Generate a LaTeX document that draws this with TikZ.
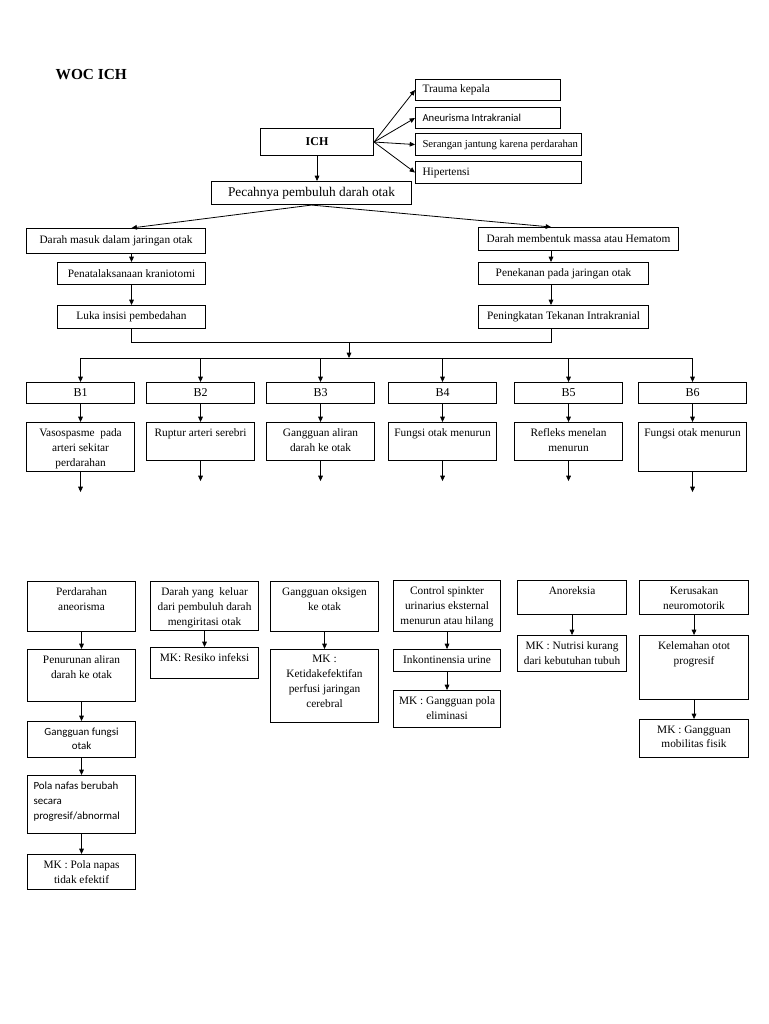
\documentclass[tikz,border=0pt]{standalone}
\usepackage{fontspec}
\setmainfont{Liberation Serif}
\newfontfamily\sansf{Carlito}
\usepackage{tikz}
\usetikzlibrary{arrows.meta, positioning, calc}
\newlength\px
\setlength\px{0.75pt}
% box contents: width, height (in px), text
\newcommand\tengah[3]{\parbox[c][#2\px][c]{#1\px}{\centering #3}}
\newcommand\atas[3]{\parbox[c][#2\px][t]{#1\px}{\centering\vspace{6\px}#3}}
\newcommand\kiri[3]{\parbox[c][#2\px][c]{#1\px}{\hspace*{7\px}\mbox{#3}}}
\newcommand\ataskiri[3]{\parbox[c][#2\px][t]{#1\px}{\raggedright\leftskip=6\px\vspace{6\px}#3}}

\begin{document}
\begin{tikzpicture}[x=0.75pt, y=-0.75pt,
    kotak/.style={draw, line width=0.8pt, inner sep=0pt, anchor=north west, font=\fontsize{8.5}{11.2}\selectfont},
    sanskotak/.style={kotak, font=\sansf\fontsize{8.2}{11.2}\selectfont},
    panah/.style={-{Triangle[length=4pt, width=3.5pt]}, line width=0.6pt},
    garis/.style={line width=0.6pt}]
  \useasboundingbox (0,0) rectangle (768,1024);
  \node[anchor=west, font=\fontsize{11.5}{13}\selectfont\bfseries] (judul) at (51,75) {WOC ICH};
  % Top: ICH and its causes
  \node[kotak, font=\fontsize{9}{11}\selectfont\bfseries] (ich) at (260,128) {\tengah{113}{27}{ICH}};
  \node[kotak] (trauma) at (415,79) {\kiri{145}{21}{Trauma kepala}};
  \node[sanskotak, font=\sansf\fontsize{8}{10}\selectfont] (aneur) at (415,107) {\kiri{145}{21}{Aneurisma Intrakranial}};
  \node[kotak, font=\fontsize{8}{10}\selectfont] (serang) at (415,133) {\kiri{166}{22}{Serangan jantung karena perdarahan}};
  \node[kotak] (hiper) at (415,161) {\kiri{166}{22}{Hipertensi}};
  \node[kotak, font=\fontsize{10}{12}\selectfont] (pecah) at (211,181) {\tengah{200}{23}{Pecahnya pembuluh darah otak}};
  \foreach \n in {trauma,aneur,serang,hiper}
    \draw[panah] (ich.east) -- (\n.west);
  \draw[panah] (ich.south) -- (ich.south |- pecah.north);
  % Two branches
  \node[kotak] (dmasuk) at (26,228) {\tengah{179}{25}{Darah masuk dalam jaringan otak}};
  \node[kotak] (krani) at (57,262) {\tengah{148}{22}{Penatalaksanaan kraniotomi}};
  \node[kotak] (luka) at (57,305) {\tengah{148}{23}{Luka insisi pembedahan}};
  \node[kotak] (hematom) at (478,227) {\tengah{200}{23}{Darah membentuk massa atau Hematom}};
  \node[kotak] (tekan) at (478,262) {\tengah{170}{22}{Penekanan pada jaringan otak}};
  \node[kotak] (tik) at (478,305) {\tengah{170}{23}{Peningkatan Tekanan Intrakranial}};
  \coordinate (kanan) at (551,0);
  \draw[panah] (pecah.south) -- (krani.north |- dmasuk.north);
  \draw[panah] (pecah.south) -- (kanan |- hematom.north);
  \draw[panah] (krani.north |- dmasuk.south) -- (krani.north);
  \draw[panah] (krani.south) -- (luka.north);
  \draw[panah] (kanan |- hematom.south) -- (kanan |- tekan.north);
  \draw[panah] (kanan |- tekan.south) -- (kanan |- tik.north);
  \coordinate (gabung) at (349,342);
  \coordinate (bus) at (349,358);
  \draw[garis] (luka.south) -- (luka.south |- gabung) -- (kanan |- gabung) -- (kanan |- tik.south);
  \draw[panah] (gabung) -- (bus);
  % B1 ... B6
  \foreach \i/\x in {1/26,2/146,3/266,4/388,5/514,6/638}
    \node[kotak, font=\fontsize{9}{11}\selectfont] (b\i) at (\x,382) {\tengah{108}{21}{B\i}};
  \node[kotak] (v1) at (26,422) {\atas{108}{49}{Vasospasme~ pada\\arteri sekitar\\perdarahan}};
  \node[kotak] (v2) at (146,422) {\atas{108}{38}{Ruptur arteri serebri}};
  \node[kotak] (v3) at (266,422) {\atas{108}{38}{Gangguan aliran\\darah ke otak}};
  \node[kotak] (v4) at (388,422) {\atas{108}{38}{Fungsi otak menurun}};
  \node[kotak] (v5) at (514,422) {\atas{108}{38}{Refleks menelan\\menurun}};
  \node[kotak] (v6) at (638,422) {\atas{108}{49}{Fungsi otak menurun}};
  \draw[garis] (b1.north |- bus) -- (b6.north |- bus);
  \foreach \i in {1,...,6} {
    \draw[panah] (b\i.north |- bus) -- (b\i.north);
    \draw[panah] (b\i.south) -- (v\i.north);
    \path (v\i.south) ++(0,20) coordinate (u\i);
    \draw[panah] (v\i.south) -- (u\i);
  }
  % Lower chains
  \node[kotak] (c1a) at (27,581) {\atas{108}{50}{Perdarahan\\aneorisma}};
  \node[kotak] (c1b) at (27,649) {\atas{108}{52}{Penurunan aliran\\darah ke otak}};
  \node[sanskotak] (c1c) at (27,721) {\atas{108}{36}{Gangguan fungsi\\otak}};
  \node[sanskotak] (c1d) at (27,775) {\ataskiri{108}{58}{Pola nafas berubah\\secara\\progresif/abnormal}};
  \node[kotak] (c1e) at (27,854) {\atas{108}{35}{MK : Pola napas\\tidak efektif}};
  \node[kotak] (c2a) at (150,581) {\atas{108}{49}{Darah yang~ keluar\\dari pembuluh darah\\mengiritasi otak}};
  \node[kotak] (c2b) at (150,647) {\atas{108}{31}{MK: Resiko infeksi}};
  \node[kotak] (c3a) at (270,581) {\atas{108}{50}{Gangguan oksigen\\ke otak}};
  \node[kotak] (c3b) at (270,649) {\atas{108}{73}{MK :\\Ketidakefektifan\\perfusi jaringan\\cerebral}};
  \node[kotak] (c4a) at (393,580) {\atas{107}{51}{Control spinkter\\urinarius eksternal\\menurun atau hilang}};
  \node[kotak] (c4b) at (393,649) {\atas{107}{22}{Inkontinensia urine}};
  \node[kotak] (c4c) at (393,690) {\atas{107}{37}{MK : Gangguan pola\\eliminasi}};
  \node[kotak] (c5a) at (517,580) {\atas{109}{34}{Anoreksia}};
  \node[kotak] (c5b) at (517,635) {\atas{109}{36}{MK : Nutrisi kurang\\dari kebutuhan tubuh}};
  \node[kotak] (c6a) at (639,580) {\atas{109}{34}{Kerusakan\\neuromotorik}};
  \node[kotak] (c6b) at (639,635) {\atas{109}{64}{Kelemahan otot\\progresif}};
  \node[kotak] (c6c) at (639,719) {\atas{109}{38}{MK : Gangguan\\mobilitas fisik}};
  \foreach \a/\b in {c1a/c1b,c1b/c1c,c1c/c1d,c1d/c1e,c2a/c2b,c3a/c3b,c4a/c4b,c4b/c4c,c5a/c5b,c6a/c6b,c6b/c6c}
    \draw[panah] (\a.south) -- (\b.north);
\end{tikzpicture}
\end{document}
